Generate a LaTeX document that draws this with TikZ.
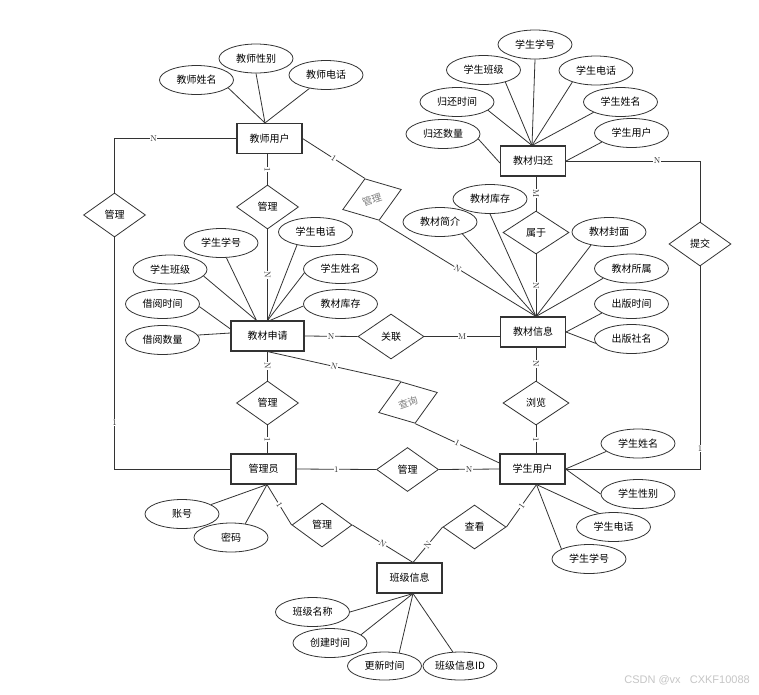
\documentclass[tikz,border=0pt]{standalone}
\usepackage{fontspec}
\newfontfamily\cjk{Noto Sans CJK SC}
\newfontfamily\wm{Liberation Sans}
\usetikzlibrary{shapes.geometric}
\begin{document}
\begin{tikzpicture}[x=1pt,y=-1pt,
  ent/.style={draw=black!80, line width=1.1pt, rectangle, minimum width=65pt, minimum height=30pt, inner sep=0pt, font=\cjk\fontsize{10}{10}\selectfont},
  attr/.style={draw=black!80, line width=0.8pt, ellipse, minimum width=74pt, minimum height=29pt, inner sep=0pt, font=\cjk\fontsize{10}{10}\selectfont},
  rel/.style={draw=black!80, line width=0.8pt, diamond, minimum width=62pt, minimum height=44pt, inner sep=0pt, font=\cjk\fontsize{10}{10}\selectfont},
  conn/.style={draw=black!80, line width=0.8pt},
  lab/.style={fill=white, inner sep=0.6pt, font=\fontsize{8.5}{8.5}\selectfont, text=black!85}]
\useasboundingbox (0,0) rectangle (759,694);
\fill[white] (0,0) rectangle (759,694);

% entities
\node[ent] (jsyh) at (269.5,138.5) {教师用户};
\node[ent] (jcgh) at (533,161) {教材归还};
\node[ent, minimum width=73pt] (jcsq) at (267.5,336) {教材申请};
\node[ent] (jcxx) at (533,332) {教材信息};
\node[ent] (gly) at (263.5,469) {管理员};
\node[ent] (xsyh) at (532.5,469) {学生用户};
\node[ent] (bjxx) at (409.5,578) {班级信息};

% relationships
\node[rel] (r1) at (114.5,215) {管理};
\node[rel] (r2) at (267.5,207) {管理};
\node[rel, rotate=19, text=gray] (r3) at (372,199.5) {管理};
\node[rel, minimum width=66pt, minimum height=43pt] (r4) at (536,232.5) {属于};
\node[rel] (r5) at (700,244) {提交};
\node[rel, minimum width=66pt, minimum height=45pt] (r6) at (391,336.5) {关联};
\node[rel] (r7) at (267.5,403) {管理};
\node[rel, rotate=19, text=gray] (r8) at (408,402.5) {查询};
\node[rel, minimum width=66pt] (r9) at (536,403) {浏览};
\node[rel] (r10) at (407.5,469.5) {管理};
\node[rel, minimum width=60pt] (r11) at (322,525) {管理};
\node[rel, minimum width=63pt] (r12) at (474.5,527) {查看};

% attributes
\node[attr] (a1) at (196.5,80) {教师姓名};
\node[attr] (a2) at (256,58.5) {教师性别};
\node[attr] (a3) at (326,75) {教师电话};
\node[attr] (b1) at (535,44.5) {学生学号};
\node[attr] (b2) at (483.5,70) {学生班级};
\node[attr] (b3) at (596,70.5) {学生电话};
\node[attr] (b4) at (457,102) {归还时间};
\node[attr] (b5) at (620.5,102) {学生姓名};
\node[attr] (b6) at (443,134) {归还数量};
\node[attr] (b7) at (631.5,133) {学生用户};
\node[attr] (c1) at (490,199) {教材库存};
\node[attr] (c2) at (440,222) {教材简介};
\node[attr] (c3) at (609,232) {教材封面};
\node[attr] (c4) at (631.5,268.5) {教材所属};
\node[attr] (c5) at (631.5,304) {出版时间};
\node[attr] (c6) at (631.5,339) {出版社名};
\node[attr] (d1) at (221,243) {学生学号};
\node[attr] (d2) at (315.5,232) {学生电话};
\node[attr] (d3) at (170,269.5) {学生班级};
\node[attr] (d4) at (340.5,269) {学生姓名};
\node[attr] (d5) at (162.5,304) {借阅时间};
\node[attr] (d6) at (340.5,304) {教材库存};
\node[attr] (d7) at (162.5,340) {借阅数量};
\node[attr] (e1) at (182,514) {账号};
\node[attr] (e2) at (231,537.5) {密码};
\node[attr] (f1) at (638,443.5) {学生姓名};
\node[attr] (f2) at (638,494) {学生性别};
\node[attr] (f3) at (613.5,527) {学生电话};
\node[attr] (f4) at (589,559) {学生学号};
\node[attr] (g1) at (312.5,612) {班级名称};
\node[attr] (g2) at (330,643) {创建时间};
\node[attr, minimum height=28pt] (g3) at (384.5,666) {更新时间};
\node[attr, minimum height=28pt] (g4) at (460,666) {班级信息ID};

% junction points
\coordinate (jstop) at ([xshift=-4.5pt]jsyh.north);
\coordinate (ghtop) at ([xshift=-1pt]jcgh.north);
\coordinate (jxtop) at ([xshift=3pt]jcxx.north);
\coordinate (sqtl) at ([xshift=-11pt]jcsq.north);
\coordinate (glbot) at ([xshift=3.5pt]gly.south);
\coordinate (xsbot) at ([xshift=4pt]xsyh.south);
\coordinate (bjtop) at ([xshift=3.5pt]bjxx.north);
\coordinate (bjbot) at ([xshift=3.5pt]bjxx.south);

% attribute links
\draw[conn] (a1.-14) -- (jstop);
\draw[conn] (a2.south) -- (jstop);
\draw[conn] (a3.-141) -- (jstop);
\draw[conn] (b1.south) -- (ghtop);
\draw[conn] (b2.-29) -- (ghtop);
\draw[conn] (b3.-154) -- (ghtop);
\draw[conn] (b4.-15) -- (ghtop);
\draw[conn] (b5.-159) -- (ghtop);
\draw[conn] (b6.-8) -- ([yshift=-2pt]jcgh.west);
\draw[conn] (b7.-163) -- (jcgh.east);
\draw[conn] (c1.south) -- (jxtop);
\draw[conn] (c2.-28) -- (jxtop);
\draw[conn] (c3.-144) -- (jxtop);
\draw[conn] (c4.-161) -- (jxtop);
\draw[conn] (c5.-163) -- (jcxx.east);
\draw[conn] (c6.-173) -- (jcxx.east);
\draw[conn] (d1.-70) -- (sqtl);
\draw[conn] (d2.-145) -- (jcsq.north);
\draw[conn] (d3.-11) -- (sqtl);
\draw[conn] (d4.-174) -- (jcsq.north);
\draw[conn] (d5.-4) -- ([yshift=7pt]jcsq.west);
\draw[conn] (d6.-177) -- ([xshift=2.5pt]jcsq.north);
\draw[conn] (d7.8) -- ([yshift=3pt]jcsq.west);
\draw[conn] (e1.18) -- (glbot);
\draw[conn] (e2.44) -- (glbot);
\draw[conn] (f1.-166) -- (xsyh.east);
\draw[conn] (f2.west) -- (xsyh.east);
\draw[conn] (f3.137) -- (xsbot);
\draw[conn] (f4.160) -- (xsbot);
\draw[conn] (g1.east) -- (bjbot);
\draw[conn] (g2.15) -- (bjbot);
\draw[conn] (g3.42) -- (bjbot);
\draw[conn] (g4.117) -- (bjbot);

% relationship links
\draw[conn] (jsyh.west) -| node[lab,pos=0.34]{N} (r1.north);
\draw[conn] (r1.south) |- node[lab,pos=0.4]{1} (gly.west);
\draw[conn] (r2.north |- jsyh.south) -- node[lab,sloped]{1} (r2.north);
\draw[conn] (r2.south) -- node[lab,sloped]{N} (r2.south |- jcsq.north);
\draw[conn] (jcsq.east) -- node[lab]{N} (r6.west);
\draw[conn] (r6.east) -- node[lab]{M} (r6.east -| jcxx.west);
\draw[conn] (r7.north |- jcsq.south) -- node[lab,sloped]{N} (r7.north);
\draw[conn] (r7.south) -- node[lab,sloped]{1} (r7.south |- gly.north);
\draw[conn] (gly.east) -- node[lab]{1} (r10.west);
\draw[conn] (r10.east) -- node[lab]{N} (xsyh.west);
\draw[conn] (jcsq.south) -- node[lab,sloped]{N} (r8.north);
\draw[conn] (r8.south) -- node[lab,sloped]{1} ([yshift=6pt]xsyh.west);
\draw[conn] (jsyh.east) -- node[lab,sloped]{1} (r3.north);
\draw[conn] (r3.south) -- node[lab,sloped]{N} (jxtop);
\draw[conn] (r4.north |- jcgh.south) -- node[lab,sloped]{M} (r4.north);
\draw[conn] (r4.south) -- node[lab,sloped]{N} (jxtop);
\draw[conn] (r9.north |- jcxx.south) -- node[lab,sloped]{N} (r9.north);
\draw[conn] (r9.south) -- node[lab,sloped]{1} (r9.south |- xsyh.north);
\draw[conn] (jcgh.east) -| node[lab,pos=0.34]{N} (r5.north);
\draw[conn] (r5.south) |- node[lab,pos=0.45]{1} (xsyh.east);
\draw[conn] (glbot) -- node[lab,sloped]{1} (r11.west);
\draw[conn] (r11.east) -- node[lab,sloped]{N} (bjtop);
\draw[conn] (xsbot) -- node[lab,sloped]{1} (r12.east);
\draw[conn] (r12.west) -- node[lab,sloped]{N} (bjtop);

% watermark
\node[font=\wm\fontsize{11}{11}\selectfont, text=gray!45, anchor=east, inner sep=0pt] (wm) at (750,680) {CSDN @vx\ \ \ CXKF10088};
\end{tikzpicture}
\end{document}
